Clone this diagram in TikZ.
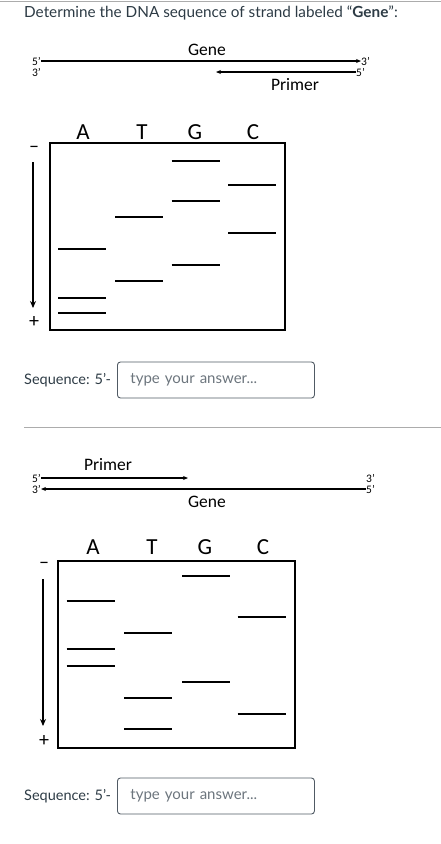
\documentclass[tikz,border=0pt]{standalone}
\usepackage{fontspec}
\setmainfont{Lato}
\newfontfamily\gelfont{Carlito}
\usetikzlibrary{arrows.meta}
\definecolor{rulegray}{RGB}{172,172,172}
\definecolor{boxgray}{RGB}{80,90,100}
\definecolor{hintgray}{RGB}{108,117,125}
\definecolor{textdark}{RGB}{45,59,69}
\tikzset{
	strand/.style={line width=1.6pt, -{Stealth[length=5pt,width=4pt]}},
	endlabel/.style={font=\gelfont\fontsize{11.5}{11.5}\selectfont, inner sep=0pt},
	strandlabel/.style={font=\gelfont\fontsize{17.5}{17.5}\selectfont, inner sep=0pt},
	lanelabel/.style={font=\gelfont\fontsize{23}{23}\selectfont, inner sep=0pt},
	polelabel/.style={font=\gelfont\fontsize{20}{20}\selectfont, inner sep=0pt},
	gel/.style={line width=1.8pt},
	band/.style={line width=1.5pt},
	runarrow/.style={line width=1.8pt, -{Stealth[length=7pt,width=6pt]}},
	answerbox/.style={draw=boxgray, line width=0.9pt, rounded corners=3pt, minimum width=197pt, minimum height=36pt, anchor=west, text=hintgray, font=\fontsize{15}{15}\selectfont, align=left, text width=171pt, inner xsep=13pt},
	seqlabel/.style={text=textdark, font=\fontsize{14.5}{14.5}\selectfont, inner sep=0pt, anchor=west}
}

\begin{document}
\begin{tikzpicture}[x=1pt,y=-1pt]
	\useasboundingbox (0,0) rectangle (441,844);
	\draw [rulegray, line width=1pt] (0,1) -- (441,1);
	\node [anchor=base west, inner sep=0pt, text=textdark, font=\fontsize{15.3}{15.3}\selectfont] (title) at (24,17) {Determine the DNA sequence of strand labeled “\textbf{Gene}”:};

	% first problem
	\node [endlabel, anchor=east] (topl5) at (41,61) {5’};
	\node [endlabel, anchor=east] (topl3) at (41,72) {3’};
	\node [endlabel, anchor=west] (topr3) at (361,61) {3’};
	\node [endlabel, anchor=west] (topr5) at (356,72) {5’};
	\coordinate (topprimerend) at (216,72);
	\draw [strand] (topl5.east) -- (topr3.west);
	\draw [strand] (topr5.west) -- (topprimerend);
	\node [strandlabel] (topgene) at (207,50) {Gene};
	\node [strandlabel] (topprimer) at (295,85) {Primer};

	\draw [gel] (50,143) rectangle (285,330);
	\node [lanelabel] (topA) at (83,132) {A};
	\node [lanelabel] (topT) at (142,132) {T};
	\node [lanelabel] (topG) at (195,132) {G};
	\node [lanelabel] (topC) at (253,132) {C};
	\foreach \x/\y in {82/249, 82/298, 82/313, 139/217, 139/281, 195.5/161, 195.5/201, 195.5/265, 252/185, 252/233}
		\draw [band] (\x-24,\y) -- (\x+24,\y);
	\node [polelabel] (topminus) at (34,149) {–};
	\node [polelabel] (topplus) at (34,322) {+};
	\coordinate (toprunstart) at (33,162);
	\coordinate (toprunend) at (33,308);
	\draw [runarrow] (toprunstart) -- (toprunend);

	\node [seqlabel] (topseq) at (24,380) {Sequence: 5'-};
	\node [answerbox] (topanswer) at (117,380) {type your answer...};
	\draw [rulegray, line width=1pt] (24,427) -- (441,427);

	% second problem
	\node [endlabel, anchor=east] (botl5) at (41,478) {5’};
	\node [endlabel, anchor=east] (botl3) at (41,489) {3’};
	\node [endlabel, anchor=west] (botr3) at (366,478) {3’};
	\node [endlabel, anchor=west] (botr5) at (366,489) {5’};
	\coordinate (botprimerend) at (188,478);
	\draw [strand] (botl5.east) -- (botprimerend);
	\draw [strand] (botr5.west) -- (botl3.east);
	\node [strandlabel] (botprimer) at (108,465) {Primer};
	\node [strandlabel] (botgene) at (207,502) {Gene};

	\draw [gel] (58,561) rectangle (295,748);
	\node [lanelabel] (botA) at (93,547) {A};
	\node [lanelabel] (botT) at (152,547) {T};
	\node [lanelabel] (botG) at (205,547) {G};
	\node [lanelabel] (botC) at (263,547) {C};
	\foreach \x/\y in {90.5/601, 90.5/649, 90.5/666, 148/633, 148/698, 148/729, 206/576, 206/682, 261.5/617, 261.5/714}
		\draw [band] (\x-24,\y) -- (\x+24,\y);
	\node [polelabel] (botminus) at (44,565) {–};
	\node [polelabel] (botplus) at (44,741) {+};
	\coordinate (botrunstart) at (43,579);
	\coordinate (botrunend) at (43,726);
	\draw [runarrow] (botrunstart) -- (botrunend);

	\node [seqlabel] (botseq) at (24,796) {Sequence: 5'-};
	\node [answerbox] (botanswer) at (117,796) {type your answer...};
\end{tikzpicture}
\end{document}
